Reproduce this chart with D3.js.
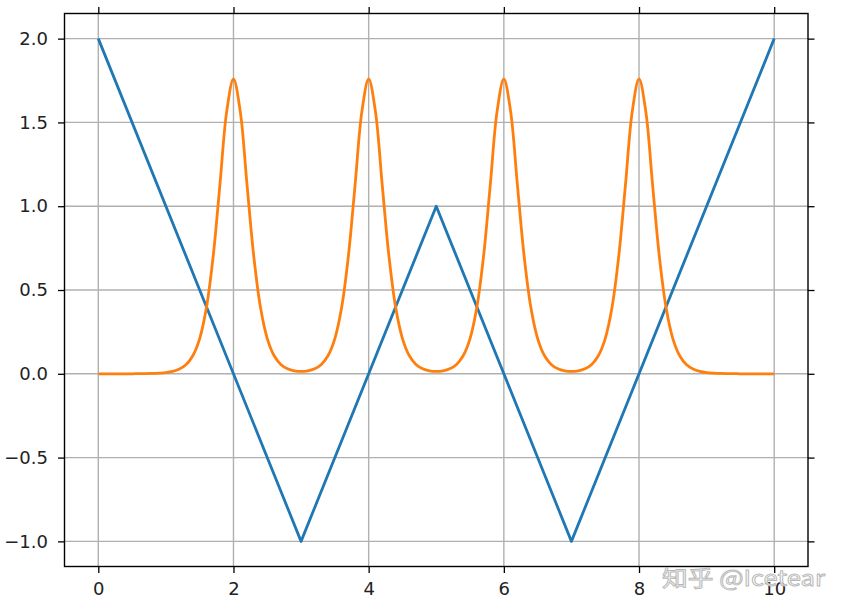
<!DOCTYPE html>
<html>
<head>
<meta charset="utf-8">
<script src="https://cdn.jsdelivr.net/npm/d3@7"></script>
<style>
  body { margin: 0; background: #fff; }
  text { font-family: "DejaVu Sans", sans-serif; }
</style>
</head>
<body>
<svg id="chart" width="847" height="612"></svg>
<script>
// blue line: corner points of the zig-zag
var blueX = [0, 3, 5, 7, 10];
var blueY = [2, -1, 1, -1, 2];

// orange line: values every 0.1 on x
var orangeX = d3.range(0, 101).map(function(i){ return i / 10; });
var orangeY = [
  0.000, 0.000, 0.000, 0.000, 0.000, 0.000, 0.001, 0.001, 0.002, 0.004,
  0.007, 0.014, 0.028, 0.055, 0.109, 0.210, 0.395, 0.702, 1.131, 1.566,
  1.760, 1.566, 1.131, 0.702, 0.395, 0.210, 0.109, 0.056, 0.030, 0.018,
  0.014, 0.018, 0.030, 0.056, 0.109, 0.210, 0.395, 0.702, 1.131, 1.566,
  1.760, 1.566, 1.131, 0.702, 0.395, 0.210, 0.109, 0.056, 0.030, 0.018,
  0.014, 0.018, 0.030, 0.056, 0.109, 0.210, 0.395, 0.702, 1.131, 1.566,
  1.760, 1.566, 1.131, 0.702, 0.395, 0.210, 0.109, 0.056, 0.030, 0.018,
  0.014, 0.018, 0.030, 0.056, 0.109, 0.210, 0.395, 0.702, 1.131, 1.566,
  1.760, 1.566, 1.131, 0.702, 0.395, 0.210, 0.109, 0.055, 0.028, 0.014,
  0.007, 0.004, 0.002, 0.001, 0.001, 0.000, 0.000, 0.000, 0.000, 0.000,
  0.000
];

var xTicks = [0, 2, 4, 6, 8, 10];
var yTicks = [-1.0, -0.5, 0.0, 0.5, 1.0, 1.5, 2.0];

var svg = d3.select("#chart");
// plot box (window.top is taken, so no "top" here)
var boxL = 64.5, boxR = 808, boxT = 13.5, boxB = 566.5;

var x = d3.scaleLinear().domain([-0.5, 10.5]).range([boxL, boxR]);
var y = d3.scaleLinear().domain([-1.15, 2.15]).range([boxB, boxT]);

var fmt = function(d){ return d3.format(".1f")(d).replace("-", "\u2212"); };

// grid
var grid = svg.append("g").attr("stroke", "#b0b0b0").attr("stroke-width", 1.4);
grid.selectAll(".gx").data(xTicks).enter().append("line")
  .attr("x1", function(d){ return x(d); }).attr("x2", function(d){ return x(d); })
  .attr("y1", boxT).attr("y2", boxB);
grid.selectAll(".gy").data(yTicks).enter().append("line")
  .attr("y1", function(d){ return y(d); }).attr("y2", function(d){ return y(d); })
  .attr("x1", boxL).attr("x2", boxR);

// lines
var blueData = blueX.map(function(d, i){ return [d, blueY[i]]; });
var orangeData = orangeX.map(function(d, i){ return [d, orangeY[i]]; });

svg.append("path")
  .datum(blueData)
  .attr("fill", "none")
  .attr("stroke", "#1f77b4")
  .attr("stroke-width", 2.8)
  .attr("stroke-linejoin", "round")
  .attr("d", d3.line().x(function(d){ return x(d[0]); }).y(function(d){ return y(d[1]); }));

svg.append("path")
  .datum(orangeData)
  .attr("fill", "none")
  .attr("stroke", "#ff7f0e")
  .attr("stroke-width", 2.8)
  .attr("stroke-linejoin", "round")
  .attr("d", d3.line().curve(d3.curveCatmullRom)
    .x(function(d){ return x(d[0]); }).y(function(d){ return y(d[1]); }));

// axes on all four sides, ticks pointing out
var tickLen = 6.5;
var axB = svg.append("g").attr("transform", "translate(0," + boxB + ")")
  .call(d3.axisBottom(x).tickValues(xTicks).tickSize(tickLen).tickPadding(9).tickFormat(d3.format("d")));
var axT = svg.append("g").attr("transform", "translate(0," + boxT + ")")
  .call(d3.axisTop(x).tickValues(xTicks).tickSize(tickLen).tickFormat(""));
var axL = svg.append("g").attr("transform", "translate(" + boxL + ",0)")
  .call(d3.axisLeft(y).tickValues(yTicks).tickSize(tickLen).tickPadding(10).tickFormat(fmt));
var axR = svg.append("g").attr("transform", "translate(" + boxR + ",0)")
  .call(d3.axisRight(y).tickValues(yTicks).tickSize(tickLen).tickFormat(""));

[axB, axT, axL, axR].forEach(function(a){
  a.select(".domain").remove();
  a.selectAll(".tick line").attr("stroke", "#000").attr("stroke-width", 1.3);
  a.selectAll("text").attr("fill", "#222").style("font-size", "18px")
    .style("font-family", "'DejaVu Sans', sans-serif");
});

// frame
svg.append("rect")
  .attr("x", boxL).attr("y", boxT)
  .attr("width", boxR - boxL).attr("height", boxB - boxT)
  .attr("fill", "none").attr("stroke", "#000").attr("stroke-width", 1.4);

// watermark
svg.append("text")
  .attr("x", 662).attr("y", 586)
  .attr("textLength", 163).attr("lengthAdjust", "spacingAndGlyphs")
  .style("font-family", "'Noto Sans CJK SC', sans-serif")
  .style("font-size", "22px")
  .attr("fill", "#ffffff").attr("fill-opacity", 0.85)
  .attr("stroke", "#b8b8b8").attr("stroke-width", 0.9)
  .text("知乎 @Icetear");
</script>
</body>
</html>
